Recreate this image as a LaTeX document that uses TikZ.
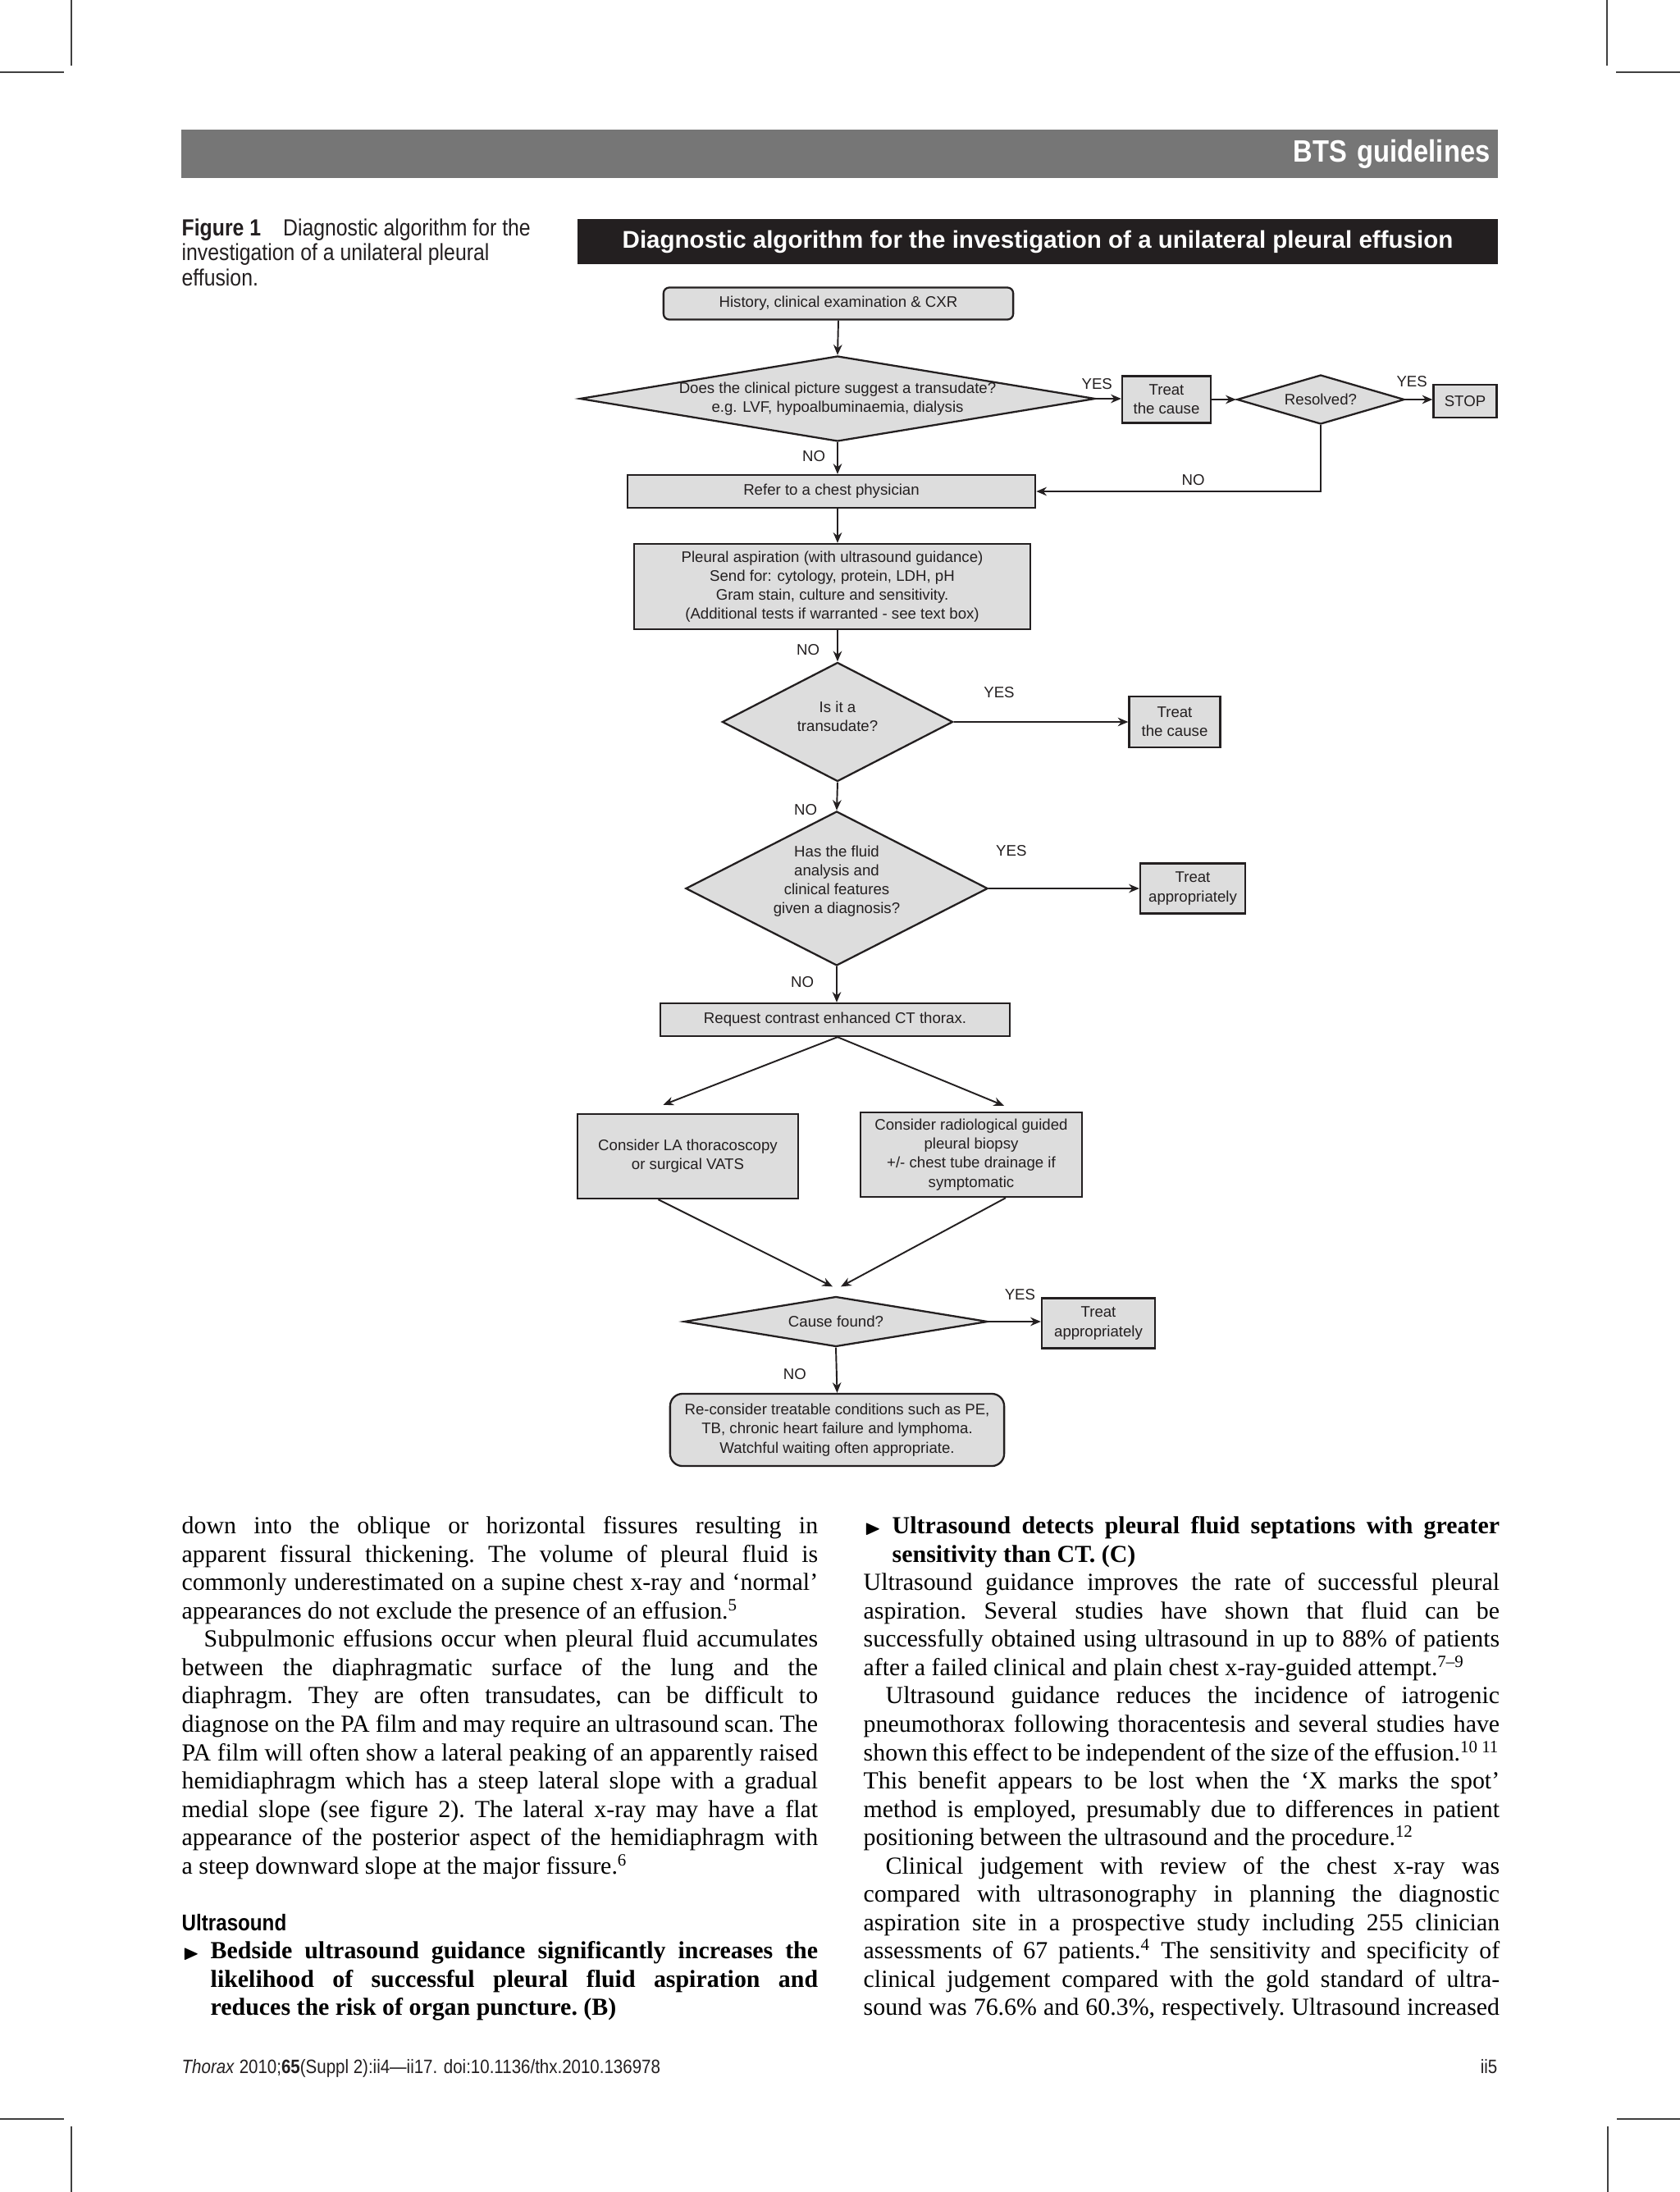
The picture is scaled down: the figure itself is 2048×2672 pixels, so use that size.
\documentclass[tikz,border=0pt]{standalone}
\usepackage{amssymb}
\usepackage{fontspec}
\setmainfont{Liberation Serif}
\newfontfamily\condSans[FakeStretch=0.87]{Liberation Sans}
\newfontfamily\flowSans{Liberation Sans}
\usepackage{xcolor}
\definecolor{boxGray}{RGB}{221,221,221}
\definecolor{lineDark}{RGB}{35,31,32}
\definecolor{barGray}{RGB}{118,118,118}
\usetikzlibrary{positioning,shapes.geometric,arrows.meta}
\newcommand{\bulletTri}{$\scriptstyle\blacktriangleright$}

\begin{document}
\begin{tikzpicture}[x=0.01cm, y=-0.01cm,
  box/.style={draw=lineDark, line width=0.65pt, fill=boxGray, align=center, inner sep=1pt,
              text=lineDark, font=\flowSans\fontsize{5.3}{6.6}\selectfont},
  dec/.style={diamond, draw=lineDark, line width=0.65pt, fill=boxGray, inner sep=0pt},
  dtxt/.style={align=center, inner sep=0pt, text=lineDark,
               font=\flowSans\fontsize{5.3}{6.6}\selectfont},
  arr/.style={-{Stealth[length=3.6pt, width=3pt]}, line width=0.55pt, draw=lineDark},
  lab/.style={inner sep=0pt, text=lineDark, font=\flowSans\fontsize{5.3}{6.6}\selectfont},
  body/.style={anchor=north west, inner sep=0pt, text width=7.75cm, align=justify, text=black,
               font=\fontsize{8.5}{9.815}\selectfont},
  crop/.style={line width=0.45pt, draw=black!75}
]
\fill[white] (0,0) rectangle (2048,2672);
\useasboundingbox (0,0) rectangle (2048,2672);

%% crop marks
\draw[crop] (87,0) -- (87,80);
\draw[crop] (0,88) -- (78,88);
\draw[crop] (1959,0) -- (1959,80);
\draw[crop] (1970,88) -- (2048,88);
\draw[crop] (0,2583) -- (78,2583);
\draw[crop] (87,2592) -- (87,2672);
\draw[crop] (1971,2583) -- (2048,2583);
\draw[crop] (1960,2592) -- (1960,2672);

%% running head and caption
\node[fill=barGray, minimum width=16.05cm, minimum height=0.53cm, text width=15.85cm,
      inner xsep=0.1cm, align=right, text=white,
      font=\condSans\bfseries\fontsize{10.7}{12}\selectfont] (hd) at (1023.5,187.5) {BTS guidelines};
\node[anchor=north west, inner sep=0pt, align=left, text=lineDark,
      font=\condSans\fontsize{8.1}{8.68}\selectfont] (cp) at (221,266)
  {\textbf{Figure 1}\hspace{0.27cm}Diagnostic algorithm for the\\investigation of a unilateral pleural\\effusion.};
\node[fill=lineDark, minimum width=11.22cm, minimum height=0.55cm, text=white,
      font=\flowSans\bfseries\fontsize{8.4}{10}\selectfont] (tt) at (1265,294.5)
  {Diagnostic algorithm for the investigation of a unilateral pleural effusion};

%% flowchart
\node[box, rounded corners=0.07cm, minimum width=4.26cm, minimum height=0.39cm] (hx) at (1022,370) {History, clinical examination \& CXR};
\node[dec, minimum width=6.28cm, minimum height=1.04cm,
      label={[dtxt]center:{Does the clinical picture suggest a transudate?\\e.g. LVF, hypoalbuminaemia, dialysis}}] (q1) at (1021,486) {};
\node[box, minimum width=1.08cm, minimum height=0.57cm] (tc1) at (1422,487) {Treat\\the cause};
\node[dec, minimum width=2.04cm, minimum height=0.60cm, label={[dtxt]center:{Resolved?}}] (rs) at (1610,487) {};
\node[box, minimum width=0.77cm, minimum height=0.40cm] (st) at (1786,489) {STOP};
\node[box, minimum width=4.97cm, minimum height=0.40cm] (rf) at (1013.5,599) {Refer to a chest physician};
\node[box, minimum width=4.83cm, minimum height=1.04cm] (pa) at (1014.5,715)
  {Pleural aspiration (with ultrasound guidance)\\Send for: cytology, protein, LDH, pH\\Gram stain, culture and sensitivity.\\(Additional tests if warranted - see text box)};
\node[dec, minimum width=2.81cm, minimum height=1.45cm,
      label={[dtxt, yshift=0.07cm]center:{Is it a\\transudate?}}] (q2) at (1021,880) {};
\node[box, minimum width=1.11cm, minimum height=0.62cm] (tc2) at (1432,880) {Treat\\the cause};
\node[dec, minimum width=3.68cm, minimum height=1.88cm,
      label={[dtxt, yshift=0.09cm]center:{Has the fluid\\analysis and\\clinical features\\given a diagnosis?}}] (q3) at (1020,1083) {};
\node[box, minimum width=1.28cm, minimum height=0.61cm] (ta1) at (1454,1083) {Treat\\appropriately};
\node[box, minimum width=4.26cm, minimum height=0.40cm] (ct) at (1018,1243) {Request contrast enhanced CT thorax.};
\node[box, minimum width=2.69cm, minimum height=1.03cm] (lv) at (838.5,1409.5) {Consider LA thoracoscopy\\or surgical VATS};
\node[box, minimum width=2.70cm, minimum height=1.03cm] (rb) at (1184,1407.5)
  {Consider radiological guided\\pleural biopsy\\+/- chest tube drainage if\\symptomatic};
\node[dec, minimum width=3.70cm, minimum height=0.61cm, label={[dtxt]center:{Cause found?}}] (q4) at (1019,1611) {};
\node[box, minimum width=1.38cm, minimum height=0.61cm] (ta2) at (1339,1613) {Treat\\appropriately};
\node[box, rounded corners=0.15cm, minimum width=4.07cm, minimum height=0.88cm] (rc) at (1020.5,1743)
  {Re-consider treatable conditions such as PE,\\TB, chronic heart failure and lymphoma.\\Watchful waiting often appropriate.};

\draw[arr] (hx.south) -- (q1.north);
\draw[arr] (q1.east) -- (q1.east -| tc1.west) node[lab, pos=0.03, above=0.1cm] {YES};
\draw[arr] (tc1.east) -- (tc1.east -| rs.west);
\draw[arr] (rs.east) -- (rs.east -| st.west) node[lab, pos=0.24, above=0.14cm] {YES};
\draw[arr] (rs.south) |- (rf.east) node[lab, pos=0.724, above=0.06cm] {NO};
\draw[arr] (q1.south) -- (q1.south |- rf.north) node[lab, pos=0.43, left=0.14cm] {NO};
\draw[arr] (rf.south -| q1) -- (pa.north -| q1);
\draw[arr] (pa.south -| q1) -- (q2.north) node[lab, pos=0.625, left=0.21cm] {NO};
\draw[arr] (q2.east) -- (q2.east -| tc2.west) node[lab, pos=0.26, above=0.28cm] {YES};
\draw[arr] (q2.south) -- (q3.north) node[lab, pos=0.97, left=0.23cm] {NO};
\draw[arr] (q3.east) -- (q3.east -| ta1.west) node[lab, pos=0.15, above=0.38cm] {YES};
\draw[arr] (q3.south) -- (q3.south |- ct.north) node[lab, pos=0.43, left=0.27cm] {NO};
\draw[arr] (ct.south -| q1) -- ([xshift=-0.3cm, yshift=0.1cm]lv.north);
\draw[arr] (ct.south -| q1) -- ([xshift=0.4cm, yshift=0.07cm]rb.north);
\draw[arr] ([xshift=-0.36cm]lv.south) -- ([xshift=-0.04cm, yshift=0.11cm]q4.north);
\draw[arr] ([xshift=0.42cm]rb.south) -- ([xshift=0.06cm, yshift=0.11cm]q4.north);
\draw[arr] (q4.east) -- (q4.east -| ta2.west) node[lab, pos=0.6, above=0.25cm] {YES};
\draw[arr] (q4.south) -- (rc.north) node[lab, pos=0.59, left=0.36cm] {NO};

%% body text
\node[body] (bl) at (221,1845) {\parindent=0.27cm \leftskip=0pt \rightskip=0pt \parfillskip=0pt plus 1fil
\tolerance=9999 \hyphenpenalty=10000 \exhyphenpenalty=10000 \frenchspacing
\noindent\strut down into the oblique or horizontal fissures resulting in\linebreak
apparent fissural thickening. The volume of pleural fluid is\linebreak
commonly underestimated on a supine chest x-ray and ‘normal’\linebreak
appearances do not exclude the presence of an effusion.\textsuperscript{5}\par
Subpulmonic effusions occur when pleural fluid accumulates\linebreak
between the diaphragmatic surface of the lung and the\linebreak
diaphragm. They are often transudates, can be difficult to\linebreak
diagnose on the PA film and may require an ultrasound scan. The\linebreak
PA film will often show a lateral peaking of an apparently raised\linebreak
hemidiaphragm which has a steep lateral slope with a gradual\linebreak
medial slope (see figure 2). The lateral x-ray may have a flat\linebreak
appearance of the posterior aspect of the hemidiaphragm with\linebreak
a steep downward slope at the major fissure.\textsuperscript{6}\par
\vspace{\baselineskip}
\noindent{\condSans\bfseries\fontsize{7.9}{9.815}\selectfont Ultrasound}\par
{\leftskip=0.35cm\noindent\llap{\makebox[0.35cm][l]{\bulletTri}}\textbf{Bedside ultrasound guidance significantly increases the\linebreak
likelihood of successful pleural fluid aspiration and\linebreak
reduces the risk of organ puncture. (B)}\par}};

\node[body] (br) at (1052,1845) {\parindent=0.27cm \leftskip=0pt \rightskip=0pt \parfillskip=0pt plus 1fil
\tolerance=9999 \hyphenpenalty=10000 \exhyphenpenalty=10000 \frenchspacing
{\leftskip=0.35cm\noindent\strut\llap{\makebox[0.35cm][l]{\bulletTri}}\textbf{Ultrasound detects pleural fluid septations with greater\linebreak
sensitivity than CT. (C)}\par}
\noindent Ultrasound guidance improves the rate of successful pleural\linebreak
aspiration. Several studies have shown that fluid can be\linebreak
successfully obtained using ultrasound in up to 88\% of patients\linebreak
after a failed clinical and plain chest x-ray-guided attempt.\textsuperscript{7–9}\par
Ultrasound guidance reduces the incidence of iatrogenic\linebreak
pneumothorax following thoracentesis and several studies have\linebreak
shown this effect to be independent of the size of the effusion.\textsuperscript{10 11}\linebreak
This benefit appears to be lost when the ‘X marks the spot’\linebreak
method is employed, presumably due to differences in patient\linebreak
positioning between the ultrasound and the procedure.\textsuperscript{12}\par
{\parfillskip=0pt Clinical judgement with review of the chest x-ray was\linebreak
compared with ultrasonography in planning the diagnostic\linebreak
aspiration site in a prospective study including 255 clinician\linebreak
assessments of 67 patients.\textsuperscript{4} The sensitivity and specificity of\linebreak
clinical judgement compared with the gold standard of ultra-\linebreak
sound was 76.6\% and 60.3\%, respectively. Ultrasound increased\par}};

%% footer
\node[anchor=base west, inner sep=0pt, text=lineDark, font=\condSans\fontsize{6.7}{8}\selectfont] (ft) at (221,2527)
  {\textit{Thorax} 2010;\textbf{65}(Suppl 2):ii4—ii17. doi:10.1136/thx.2010.136978};
\node[anchor=base east, inner sep=0pt, text=lineDark, font=\condSans\fontsize{6.7}{8}\selectfont] (pg) at (1826,2527) {ii5};
\end{tikzpicture}
\end{document}
